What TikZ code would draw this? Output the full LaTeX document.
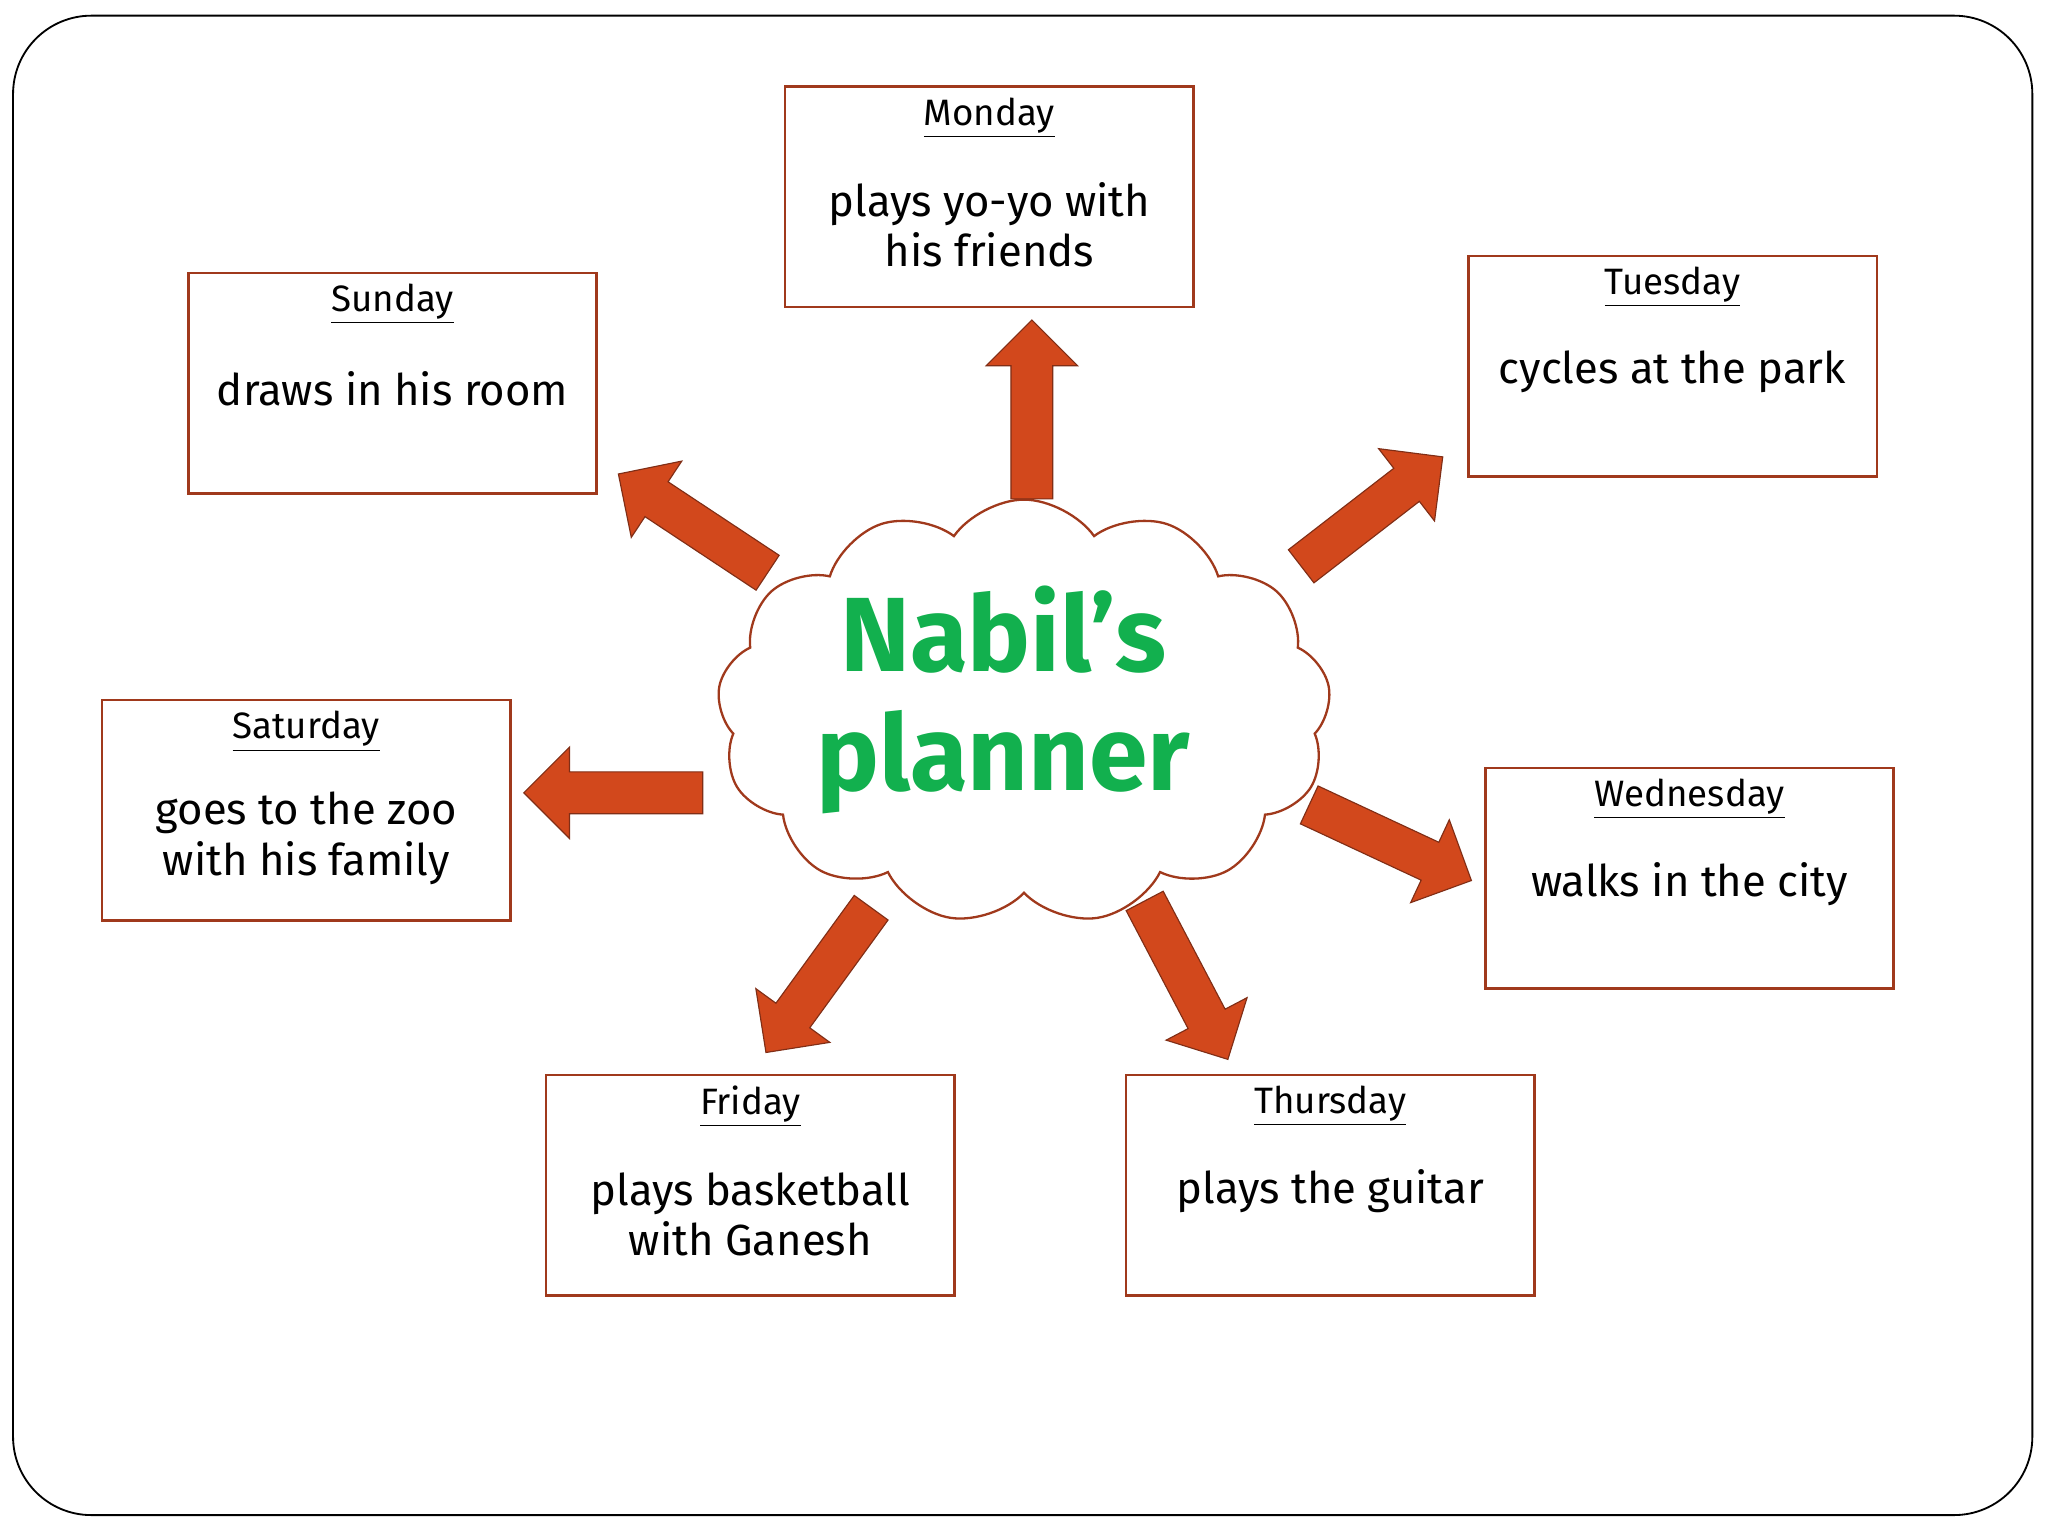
\documentclass[tikz,border=0pt]{standalone}
\usepackage{fontspec}
\setmainfont{Fira Sans}
\usetikzlibrary{shapes.symbols}
\definecolor{boxline}{HTML}{A0391C}
\definecolor{arrowfill}{HTML}{D2481C}
\definecolor{titlegreen}{HTML}{12B04E}
\begin{document}
\begin{tikzpicture}[x=0.02cm,y=0.02cm,
  box/.style={draw=boxline,line width=1.2pt,minimum width=6.26cm,minimum height=3.38cm,inner sep=0},
  day/.style={font=\fontsize{16}{19}\selectfont},
  body/.style={font=\fontsize{19}{22}\selectfont,align=center},
  arr/.style={fill=arrowfill,draw=boxline!80!black,line width=0.5pt}]
\useasboundingbox (0,0) rectangle (1568,1176);
\draw[line width=0.8pt,rounded corners=1.2cm] (10,16) rectangle (1556,1164);
% boxes
\node[box] (mon) at (757.5,1025.5) {};
\node[box] (sun) at (300.5,882.5) {};
\node[box] (tue) at (1280.5,895.5) {};
\node[box] (sat) at (234.5,555.5) {};
\node[box] (wed) at (1293.5,503.5) {};
\node[box] (fri) at (574.5,268.5) {};
\node[box] (thu) at (1018.5,268.5) {};
\foreach \b/\d in {mon/Monday,sun/Sunday,tue/Tuesday,sat/Saturday,wed/Wednesday,fri/Friday,thu/Thursday}
  \node[day,anchor=center] (\b-t) at ([yshift=-0.5cm]\b.north) {\underline{\d}};
\node[body] (mon-b) at ([yshift=-2.14cm]mon.north) {plays yo-yo with\\his friends};
\node[body] (sun-b) at ([yshift=-1.8cm]sun.north) {draws in his room};
\node[body] (tue-b) at ([yshift=-1.8cm]tue.north) {cycles at the park};
\node[body] (sat-b) at ([yshift=-2.14cm]sat.north) {goes to the zoo\\with his family};
\node[body] (wed-b) at ([yshift=-1.8cm]wed.north) {walks in the city};
\node[body] (fri-b) at ([yshift=-2.16cm]fri.north) {plays basketball\\with Ganesh};
\node[body] (thu-b) at ([yshift=-1.8cm]thu.north) {plays the guitar};
% cloud
\node[cloud,cloud puffs=13,cloud puff arc=110,aspect=1.4,draw=boxline,line width=1pt,fill=white,minimum width=9.4cm,minimum height=6.5cm] (cloud) at (784,631) {};
\node[font=\fontsize{46}{52}\selectfont\bfseries,text=titlegreen,align=center] (title) at (768,640) {Nabil’s\\planner};
% arrows
\foreach \x/\y/\a in {790/862/90, 531/775/146.5, 1050/784/37.7, 470/569/180, 1064/531/-25, 627/426/-126, 908/426/-62.3}
  \draw[arr,shift={(\x,\y)},rotate=\a] (-68,-16) -- (34,-16) -- (34,-35) -- (69,0) -- (34,35) -- (34,16) -- (-68,16) -- cycle;
\end{tikzpicture}
\end{document}
